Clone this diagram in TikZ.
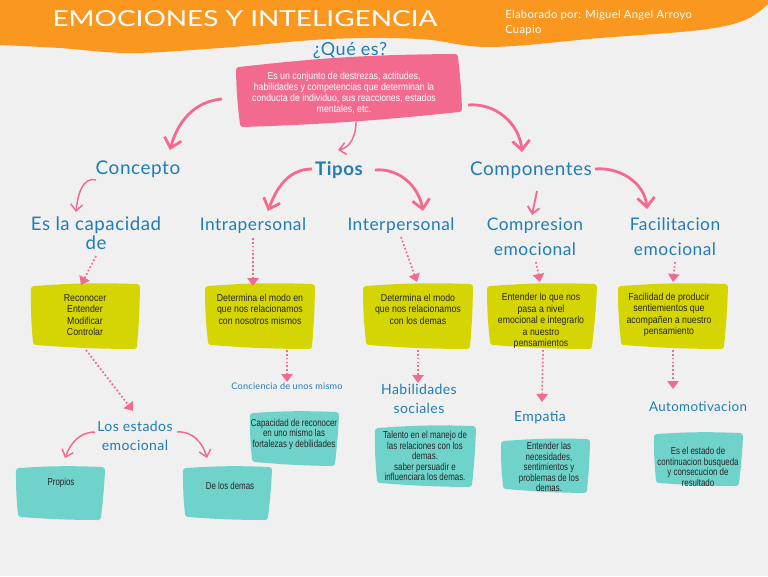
\documentclass[tikz,border=0pt]{standalone}
\usepackage{fontspec}
\usetikzlibrary{arrows.meta}
\setmainfont{Lato}
\newfontfamily\headfont[LetterSpace=3]{Lato}
\newfontfamily\bodyfont[FakeStretch=0.865]{Liberation Sans}
\newfontfamily\tealfont[FakeStretch=0.78]{Liberation Sans}
\newfontfamily\bigfont[FakeStretch=1.27]{Lato}
\definecolor{fondo}{HTML}{F0F0F0}
\definecolor{naranja}{HTML}{F9971F}
\definecolor{rosa}{HTML}{F26B8F}
\definecolor{oliva}{HTML}{D6D504}
\definecolor{turquesa}{HTML}{6FD3CB}
\definecolor{azul}{HTML}{1F7DB5}
\tikzset{
	bigtitle/.style={text=azul, align=center, inner sep=0pt, font=\headfont\fontsize{14.2}{19}\selectfont},
	subtitle/.style={text=azul, align=center, inner sep=0pt, font=\headfont\fontsize{13}{18.7}\selectfont},
	smalltitle/.style={text=azul, align=center, inner sep=0pt, font=\headfont\fontsize{10.5}{14.8}\selectfont},
	boxtext/.style={text=black!85, align=center, inner sep=0pt, font=\bodyfont\fontsize{7.6}{8.6}\selectfont},
	tealtext/.style={text=black!85, align=center, inner sep=0pt, font=\tealfont\fontsize{7.6}{7.9}\selectfont},
	swoop/.style={draw=rosa, line width=2.1pt, -{Straight Barb[length=7pt, width=13pt, line width=2.1pt]}},
	thinswoop/.style={draw=rosa, line width=1.1pt, -{Straight Barb[length=5pt, width=9pt, line width=1.1pt]}},
	dotline/.style={draw=rosa, line width=1.3pt, dash pattern=on 1.3pt off 1.6pt, -{Triangle[length=6pt, width=8.5pt]}}
}
\def\blob[#1](#2,#3)(#4,#5)(#6,#7)(#8,#9){\filldraw[#1, line width=4.5pt, line join=round] ({#2+3},{#3+3}) to[bend left=3] ({#4-3},{#5+3}) to[bend left=2] ({#6-3},{#7-3}) to[bend left=2] ({#8+3},{#9-3}) to[bend left=3] cycle;}
\begin{document}
\begin{tikzpicture}[x=0.75pt, y=-0.75pt]
	%%%%% fondo %%%%%
	\fill[fondo] (0, 0) rectangle (768, 576);
	\fill[naranja] (0, 0) -- plot[smooth, tension=0.6] coordinates {(0, 45) (60, 48) (130, 53) (220, 48) (330, 39) (420, 39) (490, 47) (600, 38) (700, 30) (745, 20) (768, 4)} -- (768, 0) -- cycle;
	
	\node[text=white, inner sep=0pt, font=\bigfont\fontsize{16.5}{19}\selectfont] (titulo) at (245, 19) {EMOCIONES Y INTELIGENCIA};
	\node[text=white, align=left, anchor=north west, inner sep=0pt, font=\headfont\fontsize{8.4}{11.3}\selectfont] (autor) at (505, 10) {Elaborado por: Miguel Angel Arroyo\\Cuapio};
	
	%%%%% cajas %%%%%
	\blob[rosa](236, 67)(458, 54)(462, 112)(240, 127)
	
	\blob[oliva](31, 286)(140, 284)(137, 349)(33, 345)
	\blob[oliva](205, 286)(315, 284)(312, 349)(208, 345)
	\blob[oliva](363, 286)(473, 284)(470, 349)(366, 345)
	\blob[oliva](487, 286)(597, 284)(592, 349)(490, 345)
	\blob[oliva](618, 286)(728, 284)(724, 349)(621, 345)
	
	\blob[turquesa](16, 468)(105, 467)(101, 520)(18, 517)
	\blob[turquesa](183, 468)(272, 467)(268, 520)(185, 517)
	\blob[turquesa](250, 413)(339, 412)(335, 466)(252, 462)
	\blob[turquesa](375, 428)(476, 426)(472, 487)(377, 483)
	\blob[turquesa](501, 441)(590, 439)(587, 493)(503, 489)
	\blob[turquesa](654, 434)(743, 433)(739, 486)(656, 483)
	
	%%%%% textos %%%%%
	\node[bigtitle, font=\headfont\fontsize{13.5}{18}\selectfont] (quees) at (350, 51) {¿Qué es?};
	\node[boxtext, text=white, font=\bodyfont\fontsize{7.6}{8.3}\selectfont] (definicion) at (344, 93) {Es un conjunto de destrezas, actitudes,\\habilidades y competencias que determinan la\\conducta de individuo, sus reacciones, estados\\mentales, etc.};
	
	\node[bigtitle] (concepto) at (138, 169) {Concepto};
	\node[bigtitle, font=\headfont\bfseries\fontsize{14}{19}\selectfont] (tipos) at (339, 170) {Tipos};
	\node[bigtitle] (componentes) at (531, 170) {Componentes};
	
	\node[subtitle, font=\headfont\fontsize{14}{14.5}\selectfont] (capacidad) at (96, 233) {Es la capacidad\\de};
	\node[subtitle] (intra) at (253, 226) {Intrapersonal};
	\node[subtitle] (inter) at (401, 226) {Interpersonal};
	\node[subtitle] (compresion) at (535, 237) {Compresion\\emocional};
	\node[subtitle] (facilitacion) at (675, 237) {Facilitacion\\emocional};
	
	\node[boxtext] (capaz) at (85, 315) {Reconocer\\Entender\\Modificar\\Controlar};
	\node[boxtext] (modo) at (260, 309) {Determina el modo en\\que nos relacionamos\\con nosotros mismos};
	\node[boxtext] (demas) at (418, 309) {Determina el modo\\que nos relacionamos\\con los demas};
	\node[boxtext] (entender) at (541, 321) {Entender lo que nos\\pasa a nivel\\emocional e integrarlo\\a nuestro\\pensamientos};
	\node[boxtext] (facilidad) at (669, 315) {Facilidad de producir\\sentiemientos que\\acompañen a nuestro\\pensamiento};
	
	\node[smalltitle] (estados) at (135, 436) {Los estados\\emocional};
	\node[smalltitle, font=\headfont\fontsize{6.8}{10}\selectfont] (conciencia) at (287, 386) {Conciencia de unos mismo};
	\node[smalltitle] (habilidades) at (419, 399) {Habilidades\\sociales};
	\node[smalltitle] (empatia) at (540, 418) {Empatia};
	\node[smalltitle, font=\headfont\fontsize{10}{14}\selectfont] (automotiv) at (698, 407) {Automotivacion};
	
	\node[tealtext] (propios) at (61, 483) {Propios};
	\node[tealtext] (delosdemas) at (230, 486) {De los demas};
	\node[tealtext] (reconocer) at (294, 434) {Capacidad de reconocer\\en uno mismo las\\fortalezas y debilidades};
	\node[tealtext] (talento) at (425, 456) {Talento en el manejo de\\las relaciones con los\\demas.\\saber persuadir e\\influenciara los demas.};
	\node[tealtext] (necesidades) at (549, 467) {Entender las\\necesidades,\\sentimientos y\\problemas de los\\demas.};
	\node[tealtext] (continuacion) at (698, 467) {Es el estado de\\continuacion busqueda\\y consecucion de\\resultado};
	
	%%%%% flechas %%%%%
	\draw[swoop] ([shift={(-122, 6)}]definicion.center) to[out=185, in=75] ([shift={(32, -19)}]concepto.center);
	\draw[swoop] ([shift={(124, 12)}]definicion.center) to[out=5, in=95] ([shift={(-9, -18)}]componentes.center);
	\draw[thinswoop] ([shift={(12, 29)}]definicion.center) to[out=270, in=10] ([shift={(-1, -20)}]tipos.center);
	
	\draw[thinswoop] ([shift={(-42, 11)}]concepto.center) to[out=165, in=85] ([shift={(-20, -21)}]capacidad.center);
	\draw[swoop] ([shift={(-27, -1)}]tipos.center) to[out=180, in=70] ([shift={(15, -15)}]intra.center);
	\draw[swoop] ([shift={(36, 0)}]tipos.center) to[out=5, in=100] ([shift={(22, -15)}]inter.center);
	\draw[line width=1.4pt, draw=rosa, -{Straight Barb[length=5pt, width=9pt, line width=1.4pt]}] ([shift={(6, 21)}]componentes.center) -- ([shift={(-3, -22)}]compresion.center);
	\draw[swoop] ([shift={(64, -1)}]componentes.center) to[out=5, in=95] ([shift={(-28, -28)}]facilitacion.center);
	
	\draw[dotline] ([shift={(0, 23)}]capacidad.center) -- ([shift={(-15, 52)}]capacidad.center);
	\draw[dotline] ([shift={(0, 12)}]intra.center) -- ([shift={(0, 60)}]intra.center);
	\draw[dotline] ([shift={(0, 11)}]inter.center) -- ([shift={(16, 56)}]inter.center);
	\draw[dotline] ([shift={(1, 25)}]compresion.center) -- ([shift={(5, 45)}]compresion.center);
	\draw[dotline] ([shift={(0, 25)}]facilitacion.center) -- ([shift={(-2, 45)}]facilitacion.center);
	
	\draw[dotline] ([shift={(1, 35)}]capaz.center) -- ([shift={(-2, -25)}]estados.center);
	\draw[dotline] ([shift={(27, 41)}]modo.center) -- ([shift={(0, -4)}]conciencia.center);
	\draw[dotline] ([shift={(0, 41)}]demas.center) -- ([shift={(-1, -16)}]habilidades.center);
	\draw[dotline] ([shift={(2, 29)}]entender.center) -- ([shift={(2, -16)}]empatia.center);
	\draw[dotline] ([shift={(4, 35)}]facilidad.center) -- ([shift={(-25, -18)}]automotiv.center);
	
	\draw[thinswoop] ([shift={(-40, -4)}]estados.center) to[out=180, in=70] ([shift={(4, -25)}]propios.center);
	\draw[thinswoop] ([shift={(42, -4)}]estados.center) to[out=5, in=105] ([shift={(-23, -28)}]delosdemas.center);
\end{tikzpicture}
\end{document}
